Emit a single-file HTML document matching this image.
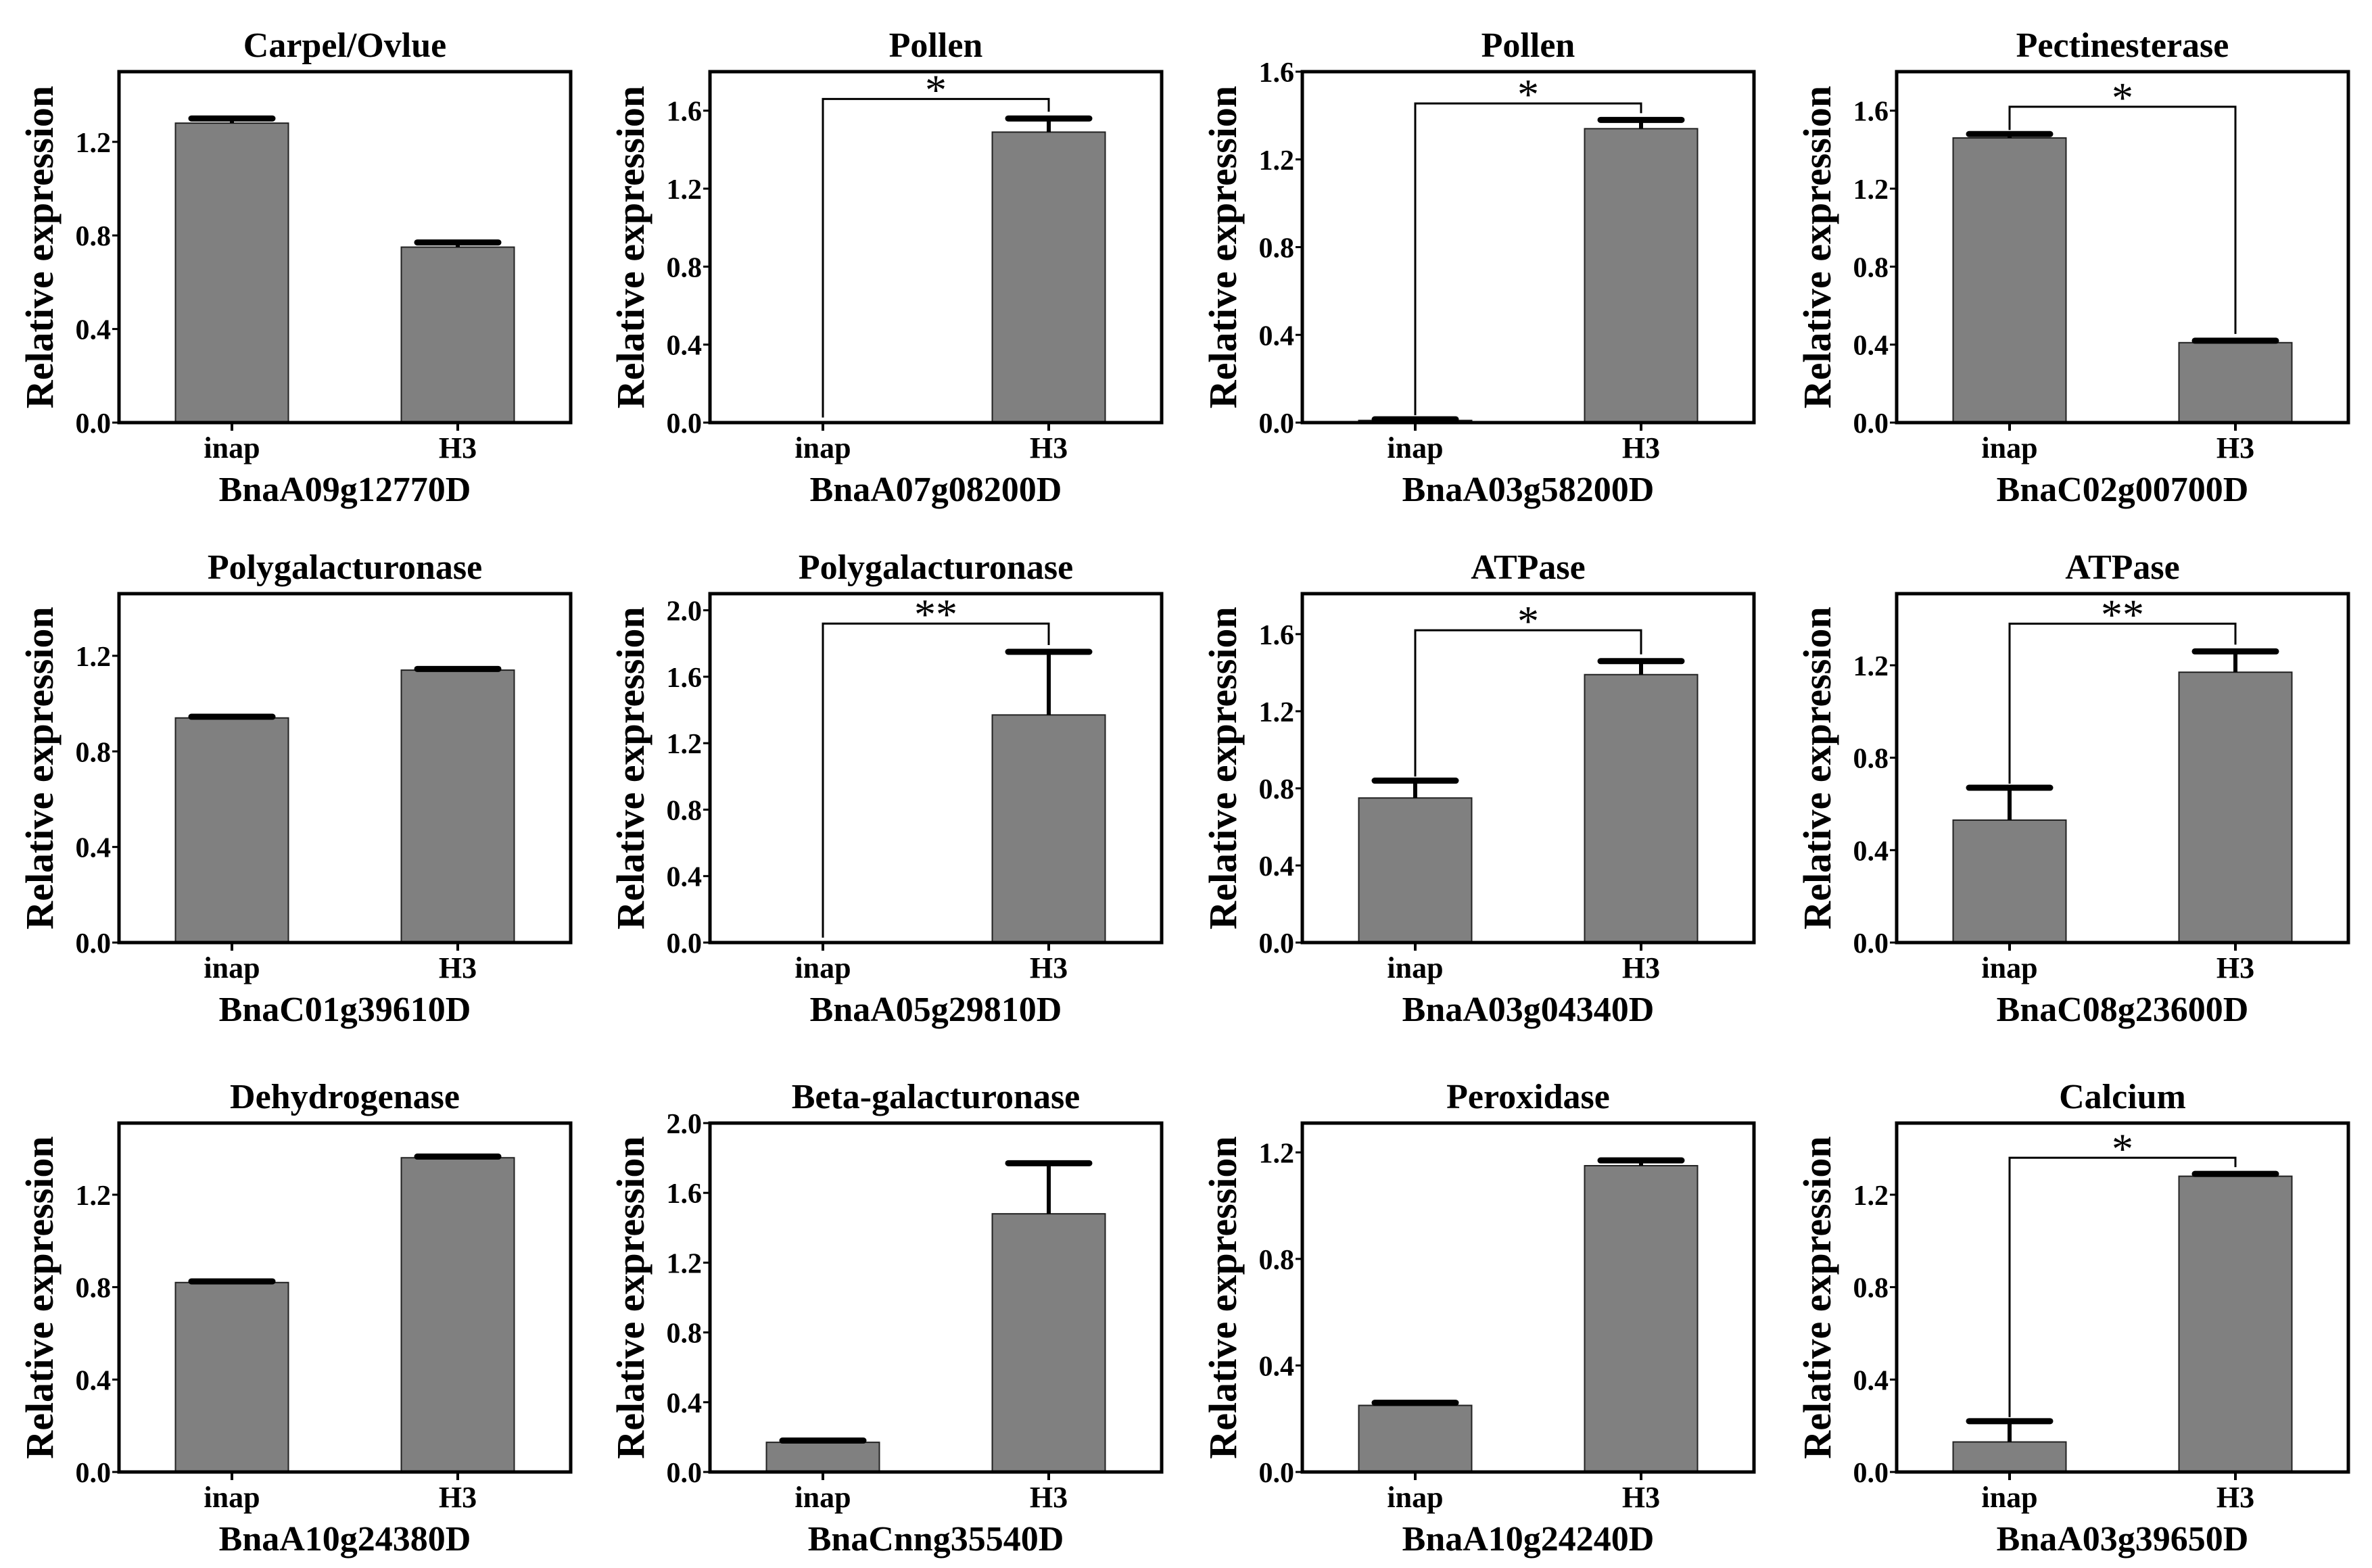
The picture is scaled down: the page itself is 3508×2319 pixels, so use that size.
<!DOCTYPE html>
<html><head><meta charset="utf-8"><style>
html,body{margin:0;padding:0;background:#fff;width:3508px;height:2319px;overflow:hidden}
svg text{font-family:"Liberation Serif",serif}
</style></head><body>
<svg id="fig" width="3508" height="2319" viewBox="0 0 3508 2319" xmlns="http://www.w3.org/2000/svg"></svg>
<script>
const titles = ["Carpel/Ovlue","Pollen","Pollen","Pectinesterase","Polygalacturonase","Polygalacturonase","ATPase","ATPase","Dehydrogenase","Beta-galacturonase","Peroxidase","Calcium"];
const genes = ["BnaA09g12770D","BnaA07g08200D","BnaA03g58200D","BnaC02g00700D","BnaC01g39610D","BnaA05g29810D","BnaA03g04340D","BnaC08g23600D","BnaA10g24380D","BnaCnng35540D","BnaA10g24240D","BnaA03g39650D"];
const categories = ["inap","H3"];
const inapValues = [1.28,0.005,0.01,1.46,0.94,0.005,0.75,0.53,0.82,0.17,0.25,0.13];
const h3Values = [0.75,1.49,1.34,0.41,1.14,1.37,1.39,1.17,1.36,1.48,1.15,1.28];
const inapErr = [0.02,0,0.005,0.02,0.005,0,0.09,0.14,0.005,0.01,0.01,0.09];
const h3Err = [0.02,0.07,0.04,0.01,0.005,0.38,0.07,0.09,0.005,0.29,0.02,0.01];
const yMax = [1.5,1.8,1.6,1.8,1.46,2.1,1.81,1.51,1.51,2.0,1.31,1.51];
const tickLabels = [["0.0","0.4","0.8","1.2"],["0.0","0.4","0.8","1.2","1.6"],["0.0","0.4","0.8","1.2","1.6"],["0.0","0.4","0.8","1.2","1.6"],["0.0","0.4","0.8","1.2"],["0.0","0.4","0.8","1.2","1.6","2.0"],["0.0","0.4","0.8","1.2","1.6"],["0.0","0.4","0.8","1.2"],["0.0","0.4","0.8","1.2"],["0.0","0.4","0.8","1.2","1.6","2.0"],["0.0","0.4","0.8","1.2"],["0.0","0.4","0.8","1.2"]];
const sigStars = ["","*","*","*","","**","*","**","","","","*"];
const sigLevel = [0,1.66,1.455,1.62,0,1.92,1.62,1.38,0,0,0,1.36];

const NS="http://www.w3.org/2000/svg";
const svg=document.getElementById('fig');
const colX=[176,1050,1926,2805], rowT=[106,878,1661], rowB=[625,1394,2177], W=668;
function mk(tag,attrs,parent){const e=document.createElementNS(NS,tag);for(const k in attrs)e.setAttribute(k,attrs[k]);(parent||svg).appendChild(e);return e;}
for(let i=0;i<12;i++){
  const L=colX[i%4], T=rowT[Math.floor(i/4)], B=rowB[Math.floor(i/4)];
  const g=mk('g',{});
  
  
  const y=v=>B-(v/yMax[i])*(B-T);
  const x=k=>L+W*(0.25+0.5*k);
  const t=mk('text',{x:L+W/2,y:T-22,'text-anchor':'middle','font-size':52,'font-weight':'bold'},g);t.textContent=titles[i];
  
  
  const vals=[inapValues[i],h3Values[i]], errs=[inapErr[i],h3Err[i]];
  for(let k=0;k<2;k++){
    const bar=mk('rect',{x:x(k)-W/8,y:y(vals[k]),width:W/4,height:B-y(vals[k]),fill:'#808080',stroke:'#222','stroke-width':2},g);
    
    
    if(errs[k]>0){
      mk('line',{x1:x(k),x2:x(k),y1:y(vals[k]),y2:y(vals[k]+errs[k]),stroke:'#000','stroke-width':6},g);
      const cap=mk('line',{x1:x(k)-60,x2:x(k)+60,y1:y(vals[k]+errs[k]),y2:y(vals[k]+errs[k]),stroke:'#000','stroke-width':9,'stroke-linecap':'round'},g);
      
      
    }
    mk('line',{x1:x(k),x2:x(k),y1:B,y2:B+12,stroke:'#000','stroke-width':4},g);
    const xl=mk('text',{x:x(k),y:B+52,'text-anchor':'middle','font-size':44,'font-weight':'bold'},g);xl.textContent=categories[k];
    
    
  }
  if(sigStars[i]){
    const sy=y(sigLevel[i]);
    const br=mk('path',{d:`M${x(0)},${y(vals[0]+errs[0])-6} L${x(0)},${sy} L${x(1)},${sy} L${x(1)},${y(vals[1]+errs[1])-10}`,fill:'none',stroke:'#000','stroke-width':3},g);
    
    
    const st=mk('text',{x:(x(0)+x(1))/2,y:sy+8,'text-anchor':'middle','font-size':64},g);st.textContent=sigStars[i];
    
    
  }
  tickLabels[i].forEach(lb=>{
    const v=parseFloat(lb);
    mk('line',{x1:L-10,x2:L,y1:y(v),y2:y(v),stroke:'#000','stroke-width':3},g);
    const tl=mk('text',{x:L-12,y:y(v)+15,'text-anchor':'end','font-size':42,'font-weight':'bold'},g);tl.textContent=lb;
    
    
  });
  const fr=mk('rect',{x:L,y:T,width:W,height:B-T,fill:'none',stroke:'#000','stroke-width':5},g);
  
  
  const yl=mk('text',{x:0,y:0,'text-anchor':'middle','font-size':58,'font-weight':'bold',transform:`translate(${L-98},${(T+B)/2}) rotate(-90)`},g);yl.textContent='Relative expression';
  
  
  const gl=mk('text',{x:L+W/2,y:B+116,'text-anchor':'middle','font-size':52,'font-weight':'bold'},g);gl.textContent=genes[i];
  
  
}
</script>
</body></html>
